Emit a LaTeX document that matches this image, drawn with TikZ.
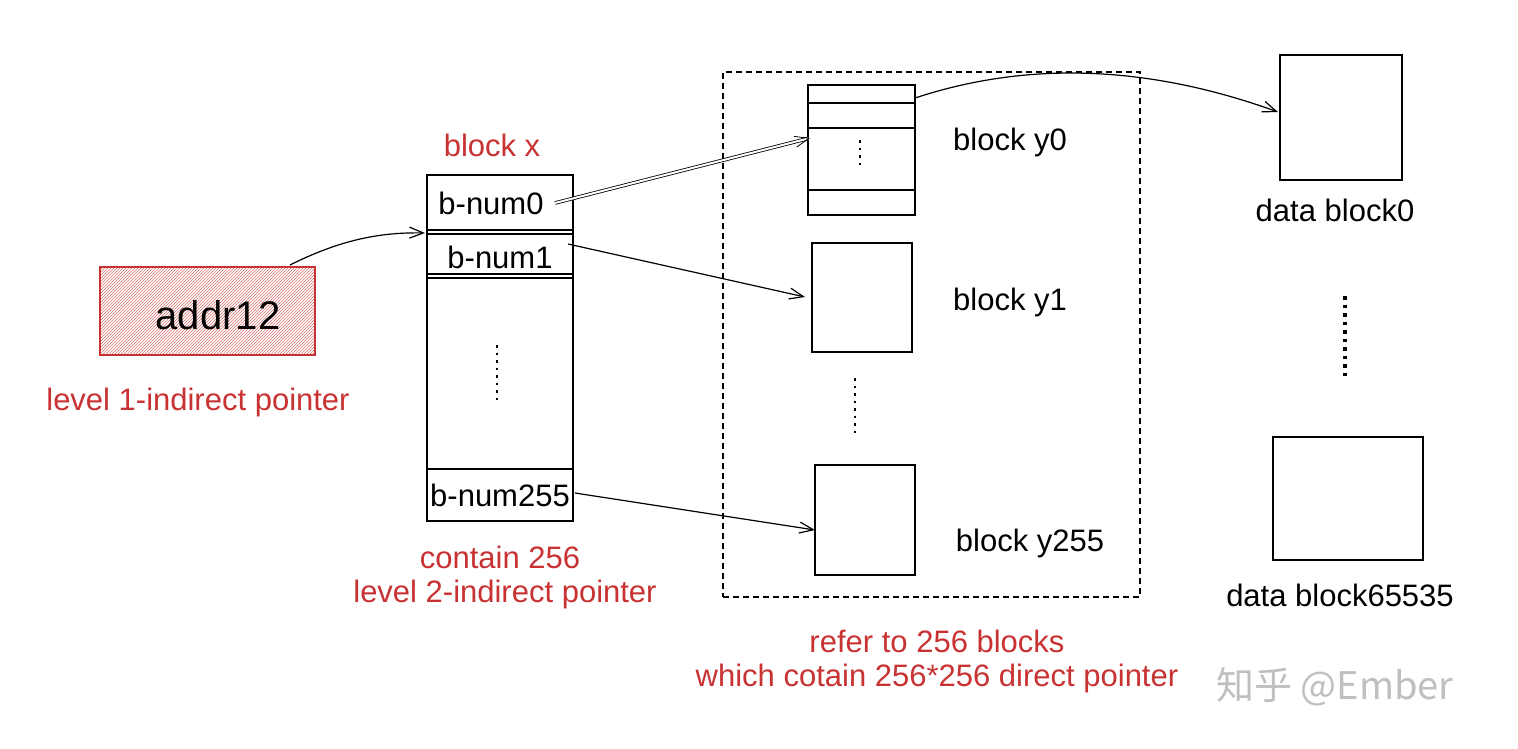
\documentclass[tikz,border=0pt]{standalone}
\usepackage{fontspec}
\setmainfont{Liberation Sans}
\newfontfamily\cjkf{Noto Sans CJK SC}
\usetikzlibrary{patterns,arrows.meta}
\definecolor{myred}{RGB}{200,50,50}
\begin{document}
\begin{tikzpicture}[x=1pt,y=-1pt,
  box/.style={draw,line width=1.2pt,inner sep=0pt},
  lbl/.style={font=\fontsize{31}{35}\selectfont,inner sep=0pt},
  rlbl/.style={lbl,text=myred},
  arr/.style={line width=1.2pt,-{Straight Barb[length=14pt,width=11pt]}},
  dotv/.style={line width=2.5pt,dash pattern=on 2.5pt off 5pt}]
\useasboundingbox (0,0) rectangle (1518,748);
% addr12
\node[box,draw=myred,pattern=north east lines,pattern color=myred!70,minimum width=215pt,minimum height=88pt] (addr) at (207.5,311) {};
\node[lbl,font=\fontsize{40}{44}\selectfont] (addrt) at (218,315) {addr12};
\node[rlbl] (l1) at (198,402) {level 1-indirect pointer};
% block x
\node[rlbl] (bxl) at (492,145) {block x};
\node[box,minimum width=146pt,minimum height=346pt] (bx) at (500,348) {};
\draw[line width=1.2pt] (427,230)--(573,230) (427,234)--(573,234) (427,274)--(573,274) (427,278)--(573,278) (427,469)--(573,469);
\node[lbl] (b0) at (491,203) {b-num0};
\node[lbl] (b1) at (500,257) {b-num1};
\node[lbl] (b255) at (500,495) {b-num255};
\draw[dotv] (497,345)--(497,402);
\node[rlbl] (c1) at (500,557) {contain 256};
\node[rlbl] (c2) at (505,594) {level 2-indirect pointer};
% dashed region
\node[draw,dash pattern=on 6pt off 4pt,line width=1.2pt,minimum width=417pt,minimum height=525pt,inner sep=0pt] (reg) at (931.5,334.5) {};
% block y0
\node[box,minimum width=107pt,minimum height=130pt] (y0) at (861.5,150) {};
\draw[line width=1.2pt] (808,103)--(915,103) (808,128)--(915,128) (808,190)--(915,190);
\draw[dotv] (860,140)--(860,166);
\node[lbl] (y0l) at (1010,142) {block y0};
% block y1
\node[box,minimum width=100pt,minimum height=109pt] (y1) at (862,297.5) {};
\node[lbl] (y1l) at (1010,302) {block y1};
\draw[dotv] (855,378)--(855,434);
% y255
\node[box,minimum width=100pt,minimum height=110pt] (y255) at (865,520) {};
\node[lbl] (y255l) at (1030,543) {block y255};
% data blocks
\node[box,minimum width=122pt,minimum height=125pt] (d0) at (1341,117.5) {};
\node[lbl] (d0l) at (1335,210) {data block0};
\draw[dotv,line width=3.5pt,dash pattern=on 3.5pt off 5pt] (1345,296)--(1345,380);
\node[box,minimum width=150pt,minimum height=123pt] (d1) at (1348,498.5) {};
\node[lbl] (d1l) at (1340,595) {data block65535};
\node[rlbl] (r1) at (937,641) {refer to 256 blocks};
\node[rlbl] (r2) at (937,678) {which cotain 256*256 direct pointer};
\node[lbl,text=black!25,font=\cjkf\fontsize{38}{42}\selectfont] (wm) at (1335,687) {知乎 @Ember};
% arrows
\coordinate (a0) at (290,265); \coordinate (a1) at (425,233);
\draw[arr] (a0) .. controls (340,240) and (380,232) .. (a1);
\coordinate (s0) at (555,203); \coordinate (t0) at (810,138);
\draw[arr,double,double distance=2pt,line width=0.8pt] (s0) -- (t0);
\coordinate (s1) at (568,244); \coordinate (t1) at (805,297);
\draw[arr] (s1) -- (t1);
\coordinate (s2) at (575,493); \coordinate (t2) at (815,530);
\draw[arr] (s2) -- (t2);
\coordinate (s3) at (915,98); \coordinate (t3) at (1278,112);
\draw[arr] (s3) .. controls (1000,70) and (1120,55) .. (t3);
\end{tikzpicture}
\end{document}
